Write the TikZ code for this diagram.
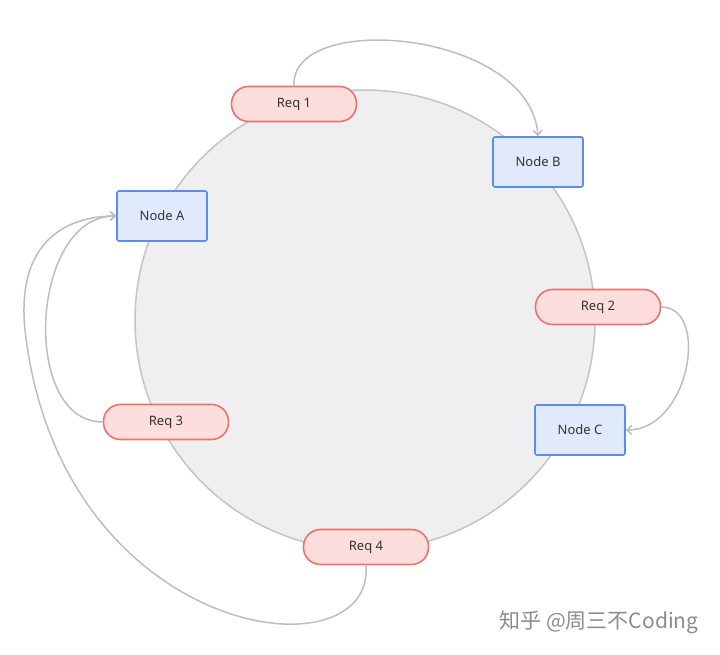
\documentclass[tikz,border=0pt]{standalone}
\usepackage{fontspec}
\setmainfont{Noto Sans}
\newfontfamily\cjk{Noto Sans CJK SC}
\usetikzlibrary{arrows.meta}
\definecolor{ringfill}{HTML}{EFEFF1}
\definecolor{ringline}{HTML}{C4C4C4}
\definecolor{reqfill}{HTML}{FDDEDD}
\definecolor{reqline}{HTML}{E8736F}
\definecolor{nodefill}{HTML}{E1EAFC}
\definecolor{nodeline}{HTML}{5B8DEA}
\definecolor{arr}{HTML}{BDBDBD}
\begin{document}
\begin{tikzpicture}[x=1pt,y=-1pt,
  reqbox/.style={draw=reqline,fill=reqfill,line width=1.6pt,rounded corners=17pt,minimum width=125pt,minimum height=35pt,font=\fontsize{13}{15}\selectfont,text=black!80},
  srvbox/.style={draw=nodeline,fill=nodefill,line width=1.6pt,rounded corners=2pt,minimum width=90pt,minimum height=50pt,font=\fontsize{13}{15}\selectfont,text=black!80},
  conn/.style={draw=arr,line width=1.5pt,-{Straight Barb[length=5pt,width=9pt]}}]
\useasboundingbox (0,0) rectangle (720,655);
\node[draw=ringline,fill=ringfill,line width=1.5pt,circle,minimum size=460pt] (ring) at (365,320) {};
\node[reqbox] (r1) at (294,104) {Req 1};
\node[srvbox] (nb) at (538,162) {Node B};
\node[srvbox] (na) at (162,216) {Node A};
\node[reqbox] (r2) at (598,307) {Req 2};
\node[srvbox] (nc) at (580,430) {Node C};
\node[reqbox] (r3) at (166,422) {Req 3};
\node[reqbox] (r4) at (366,547) {Req 4};
\draw[conn] (r1.north) .. controls (290,10) and (530,30) .. (nb.north);
\draw[conn] (r2.east) .. controls (710,307) and (690,430) .. (nc.east);
\draw[conn] (r3.west) .. controls (20,422) and (30,216) .. (na.west);
\draw[conn] (r4.south) .. controls (375,680) and (60,640) .. (25,330) .. controls (15,230) and (80,216) .. (na.west);
\node[text=black!45,font=\cjk\fontsize{21}{24}\selectfont] (wm) at (599,622) {知乎 @周三不Coding};
\end{tikzpicture}
\end{document}
